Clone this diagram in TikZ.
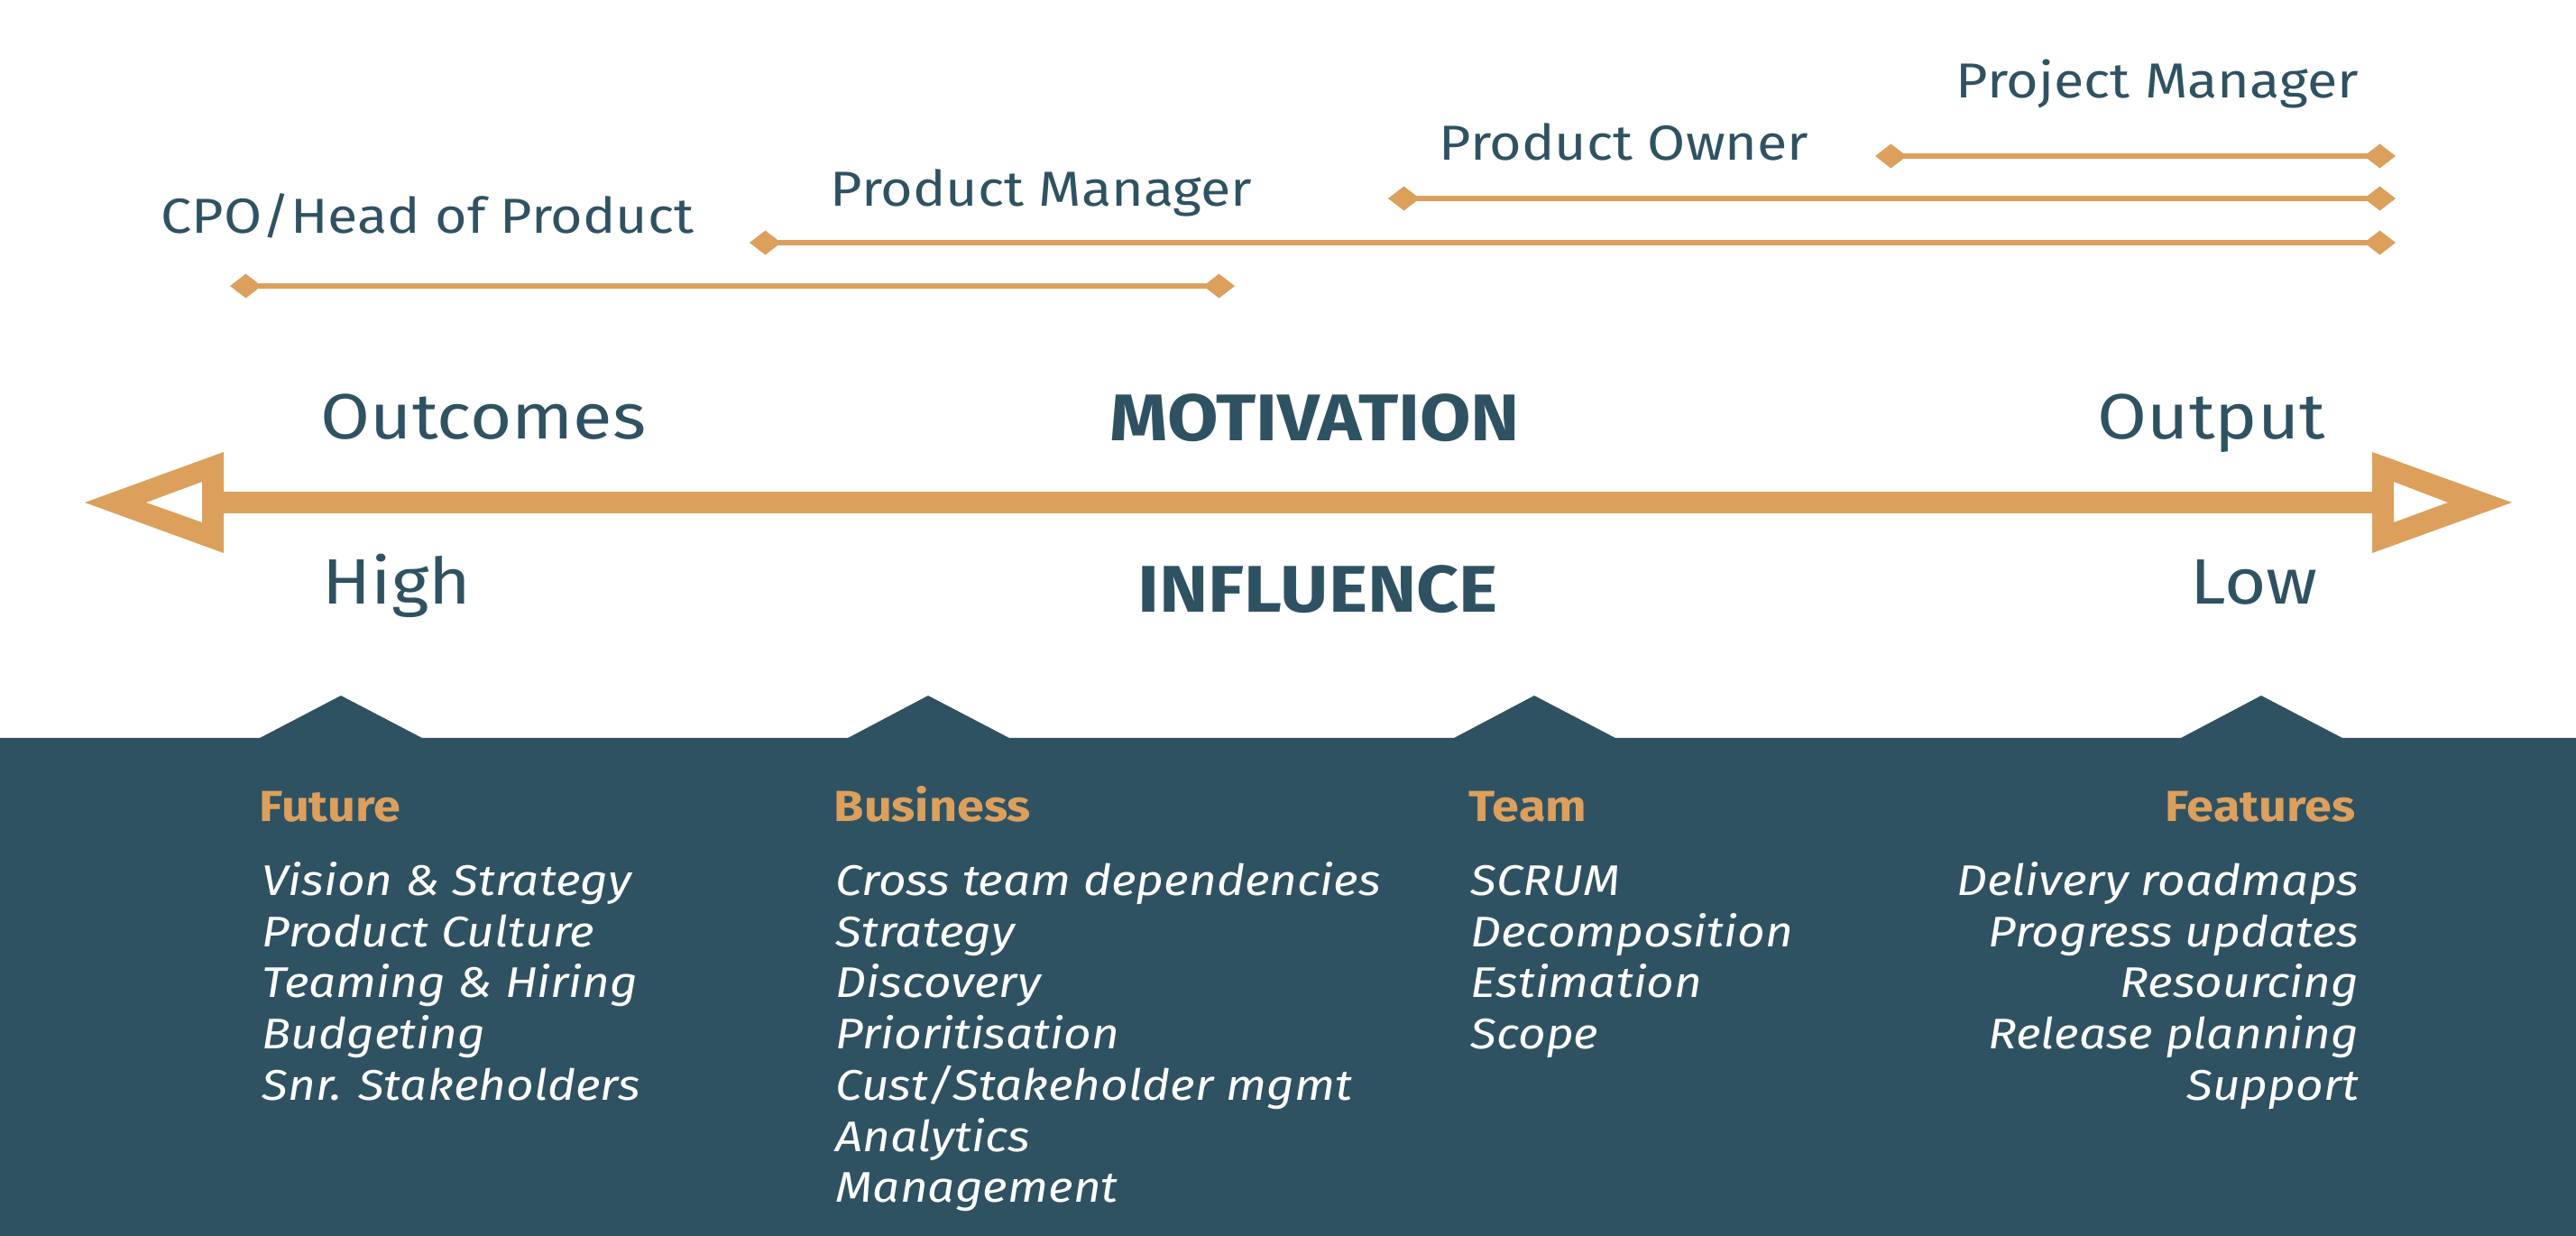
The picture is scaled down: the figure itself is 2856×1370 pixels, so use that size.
\documentclass[tikz,border=0pt]{standalone}
\usepackage{fontspec}
\setmainfont{Fira Sans}[FakeStretch=1.12]
\usetikzlibrary{arrows.meta}

\definecolor{slate}{RGB}{47,82,99}
\definecolor{ochre}{RGB}{220,160,92}

\tikzset{
  role/.style={text=slate, font=\fontsize{15.5}{19}\selectfont, anchor=base west, inner sep=0pt},
  span/.style={ochre, line width=0.055cm, {Diamond[length=0.35cm,width=0.27cm]}-{Diamond[length=0.35cm,width=0.27cm]}},
  pole/.style={text=slate, font=\fontsize{20.2}{24}\selectfont, anchor=base west, inner sep=0pt},
  axistitle/.style={text=slate, font=\bfseries\fontsize{20.8}{25}\selectfont, anchor=base, inner sep=0pt},
  head/.style={text=ochre, font=\bfseries\fontsize{13.7}{16}\selectfont, anchor=base west, inner sep=0pt},
  item/.style={text=white, font=\itshape\fontsize{13.5}{16}\selectfont, anchor=base west, inner sep=0pt},
}

\begin{document}
\begin{tikzpicture}[x=0.01cm, y=-0.01cm]
			\useasboundingbox (0,0) rectangle (2856,1370);

			% bottom panel with peaks
			\fill [slate] (0,818) -- (288,818) -- (378,771) -- (468,818)
				-- (940,818) -- (1029,771) -- (1119,818)
				-- (1612,818) -- (1701,771) -- (1791,818)
				-- (2418,818) -- (2507,771) -- (2597,818)
				-- (2856,818) -- (2856,1370) -- (0,1370) -- cycle;

			% role spans
			\coordinate (cpoL) at (255,317);
			\coordinate (cpoR) at (1369,317);
			\coordinate (pmL) at (831,269);
			\coordinate (pmR) at (2656,269);
			\coordinate (poL) at (1539,220);
			\coordinate (poR) at (2656,220);
			\coordinate (pjmL) at (2079,173);
			\coordinate (pjmR) at (2656,173);

			\draw [span] (cpoL) -- (cpoR);
			\draw [span] (pmL) -- (pmR);
			\draw [span] (poL) -- (poR);
			\draw [span] (pjmL) -- (pjmR);

			% role labels
			\node [role] (cpo) at (178,259) {CPO/Head of Product};
			\node [role] (pm) at (920,229) {Product Manager};
			\node [role] (po) at (1595,178) {Product Owner};
			\node [role] (pjm) at (2168,109) {Project Manager};

			% axis
			\coordinate (axisL) at (248,557);
			\coordinate (axisR) at (2630,557);
			\draw [ochre, line width=0.235cm] (axisL) -- (axisR);
			\fill [ochre, even odd rule] (94,557) -- (248,501) -- (248,613) -- cycle
				(162,557) -- (224,534) -- (224,579) -- cycle;
			\fill [ochre, even odd rule] (2785,557) -- (2630,501) -- (2630,613) -- cycle
				(2714,557) -- (2654,534) -- (2654,579) -- cycle;

			% axis labels
			\node [pole] (outcomes) at (355,487) {Outcomes};
			\node [pole] (output) at (2325,487) {Output};
			\node [pole] (high) at (357,670) {High};
			\node [pole] (low) at (2428,670) {Low};
			\node [axistitle] (motiv) at (1458,489) {MOTIVATION};
			\node [axistitle] (infl) at (1461,679) {INFLUENCE};

			% column heads
			\node [head] (hfut) at (287,910) {Future};
			\node [head] (hbus) at (924,910) {Business};
			\node [head] (hteam) at (1628,910) {Team};
			\node [head, anchor=base east] (hfeat) at (2612,910) {Features};

			% future
			\node [item] (fut1) at (290,992) {Vision \& Strategy};
			\node [item] (fut2) at (290,1049) {Product Culture};
			\node [item] (fut3) at (290,1105) {Teaming \& Hiring};
			\node [item] (fut4) at (290,1162) {Budgeting};
			\node [item] (fut5) at (290,1219) {Snr. Stakeholders};

			% business
			\node [item] (bus1) at (926,992) {Cross team dependencies};
			\node [item] (bus2) at (926,1049) {Strategy};
			\node [item] (bus3) at (926,1105) {Discovery};
			\node [item] (bus4) at (926,1162) {Prioritisation};
			\node [item] (bus5) at (926,1219) {Cust/Stakeholder mgmt};
			\node [item] (bus6) at (926,1276) {Analytics};
			\node [item] (bus7) at (926,1332) {Management};

			% team
			\node [item] (team1) at (1630,992) {SCRUM};
			\node [item] (team2) at (1630,1049) {Decomposition};
			\node [item] (team3) at (1630,1105) {Estimation};
			\node [item] (team4) at (1630,1162) {Scope};

			% features
			\node [item, anchor=base east] (feat1) at (2616,992) {Delivery roadmaps};
			\node [item, anchor=base east] (feat2) at (2616,1049) {Progress updates};
			\node [item, anchor=base east] (feat3) at (2616,1105) {Resourcing};
			\node [item, anchor=base east] (feat4) at (2616,1162) {Release planning};
			\node [item, anchor=base east] (feat5) at (2616,1219) {Support};

		\end{tikzpicture}
\end{document}
